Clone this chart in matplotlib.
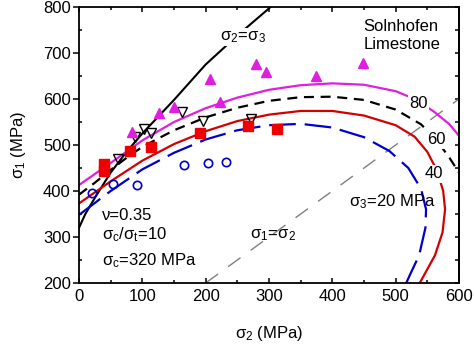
import matplotlib
matplotlib.use("Agg")
import matplotlib.pyplot as plt
from matplotlib.ticker import MultipleLocator, NullFormatter

plt.rcParams['font.family'] = ['Liberation Sans', 'DejaVu Sans']
plt.rcParams['mathtext.fontset'] = 'custom'
plt.rcParams['mathtext.rm'] = 'Liberation Sans'
plt.rcParams['mathtext.it'] = 'Liberation Sans:italic'
plt.rcParams['mathtext.bf'] = 'Liberation Sans:bold'
plt.rcParams['font.size'] = 12

# ---- experimental data (sigma2, sigma1) in MPa ----
red_s2 = [40, 40, 81, 114, 191, 267, 313]
red_s1 = [458, 443, 488, 496, 527, 542, 534]

mag_s2 = [83, 127, 150, 207, 223, 280, 295, 374, 449]
mag_s1 = [529, 569, 582, 643, 594, 676, 659, 651, 679]

blk_s2 = [61, 88, 102, 113, 162, 196, 271]
blk_s1 = [469, 517, 534, 527, 571, 552, 556]

blu_s2 = [21, 53, 91, 165, 204, 232]
blu_s1 = [395, 415, 413, 456, 460, 464]

# ---- model curves ----
c80_s2 = [0, 25, 50, 100, 150, 200, 250, 300, 350, 400, 450, 500, 530, 560, 585, 600, 615]
c80_s1 = [413, 437, 461, 510, 550, 580, 603, 620, 630, 634, 631, 617, 600, 573, 545, 520, 490]

c60_s2 = [0, 25, 50, 75, 100, 150, 200, 250, 300, 350, 400, 450, 500, 540, 565, 585, 600, 612]
c60_s1 = [392, 418, 446, 472, 496, 532, 560, 581, 596, 604, 605, 598, 577, 545, 510, 472, 440, 405]

c40_s2 = [0, 50, 100, 150, 200, 250, 300, 350, 400, 450, 500, 530, 550, 565, 575, 578, 574, 562, 548, 536]
c40_s1 = [373, 421, 466, 502, 530, 552, 566, 574, 574, 564, 543, 518, 485, 445, 400, 360, 310, 260, 225, 195]

c20_s2 = [0, 50, 100, 150, 200, 250, 300, 350, 400, 450, 490, 520, 540, 548, 547, 537, 525, 515]
c20_s1 = [348, 400, 447, 483, 512, 532, 543, 546, 538, 517, 487, 450, 405, 360, 320, 260, 225, 195]

tri_s2 = [0, 10, 25, 50, 75, 100, 150, 200, 250, 300, 320]
tri_s1 = [320, 350, 385, 440, 485, 525, 598, 675, 738, 797, 822]

eq_s2 = [200, 620]
eq_s1 = [200, 620]

RED_L = '#d40000'
RED_M = '#ee0000'
MAG = '#e01ee0'
BLUE = '#0000cc'

fig = plt.figure(figsize=(4.74, 3.48), dpi=100)
ax = fig.add_axes([79/474, 1 - 283/348, 380/474, 276/348])

ax.plot(eq_s2, eq_s1, color='#808080', lw=1.0, ls=(0, (11, 9)), zorder=1)
ax.plot(tri_s2, tri_s1, color='black', lw=1.5, zorder=2)
ax.plot(c80_s2, c80_s1, color=MAG, lw=1.6, zorder=2)
ax.plot(c60_s2, c60_s1, color='black', lw=1.6, ls=(0, (4.5, 3)), zorder=2)
ax.plot(c40_s2, c40_s1, color=RED_L, lw=1.6, zorder=2)
ax.plot(c20_s2, c20_s1, color=BLUE, lw=1.6, ls=(0, (12, 4)), zorder=2)

ax.plot(blu_s2, blu_s1, 'o', ms=6, mfc='none', mec=BLUE, mew=1.2, zorder=4)
ax.plot(blk_s2, blk_s1, 'v', ms=7, mfc='none', mec='black', mew=1.0, zorder=4)
ax.plot(red_s2, red_s1, 's', ms=7, color=RED_M, zorder=4)
ax.plot(mag_s2, mag_s1, '^', ms=7.5, color=MAG, zorder=4)

ax.set_xlim(0, 600)
ax.set_ylim(200, 800)
ax.xaxis.set_major_locator(MultipleLocator(100))
ax.xaxis.set_minor_locator(MultipleLocator(50))
ax.yaxis.set_major_locator(MultipleLocator(100))
ax.yaxis.set_minor_locator(MultipleLocator(50))

for s in ax.spines.values():
    s.set_linewidth(1.3)

ax.tick_params(axis='x', which='both', direction='in', top=True, bottom=True,
               width=1.1, labelsize=12, pad=4)
ax.tick_params(axis='x', which='major', length=3.5)
ax.tick_params(axis='x', which='minor', length=2.5)
ax.tick_params(axis='y', which='major', direction='out', length=4.5, width=1.1,
               labelsize=12, pad=1.5, right=False)
ax.tick_params(axis='y', which='minor', direction='in', length=2.5, width=1.1, right=False)

sec = ax.secondary_yaxis('right')
sec.yaxis.set_major_locator(MultipleLocator(50))
sec.yaxis.set_major_formatter(NullFormatter())
sec.tick_params(direction='in', length=3, width=1.1)
sec.spines['right'].set_linewidth(1.3)

ax.set_xlabel(r'$\mathregular{\sigma_2}$ (MPa)', fontsize=12, labelpad=15)
ax.set_ylabel(r'$\mathregular{\sigma_1}$ (MPa)', fontsize=12, labelpad=11)

bb = dict(facecolor='white', edgecolor='none', pad=1)
ax.text(222, 728, r'$\mathregular{\sigma_2\!=\!\sigma_3}$', fontsize=12, ha='left',
        va='baseline', bbox=bb, zorder=3)
ax.text(449, 748, 'Solnhofen', fontsize=12, ha='left', va='baseline')
ax.text(449, 708, 'Limestone', fontsize=12, ha='left', va='baseline')
ax.text(536, 591, '80', fontsize=12, ha='center', va='center', bbox=bb, zorder=3)
ax.text(564, 511, '60', fontsize=12, ha='center', va='center', bbox=bb, zorder=3)
ax.text(560, 437, '40', fontsize=12, ha='center', va='center', bbox=bb, zorder=3)
ax.text(426, 366, r'$\mathregular{\sigma_3}$=20 MPa', fontsize=12, ha='left', va='baseline')
ax.text(270, 297, r'$\mathregular{\sigma_1\!=\!\sigma_2}$', fontsize=12, ha='left', va='baseline')
ax.text(36, 337, 'ν=0.35', fontsize=12, ha='left', va='baseline')
ax.text(36, 295, r'$\mathregular{\sigma_c/\sigma_t}$=10', fontsize=12, ha='left', va='baseline')
ax.text(36, 239, r'$\mathregular{\sigma_c}$=320 MPa', fontsize=12, ha='left', va='baseline')

fig.savefig('out.png', dpi=100)
